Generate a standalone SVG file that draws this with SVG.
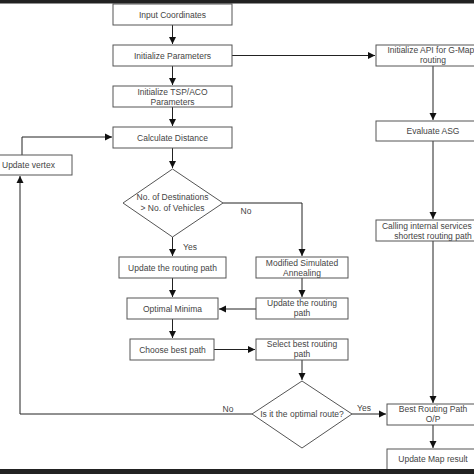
<svg xmlns="http://www.w3.org/2000/svg" width="474" height="474" viewBox="0 0 474 474">
<style>
.b{fill:#fff;stroke:#555;stroke-width:1}
.t{font-family:"Liberation Sans",Arial,sans-serif;font-size:8.5px;fill:#444;text-anchor:middle}
.c{fill:none;stroke:#222;stroke-width:1}
</style>
<defs>
<marker id="a" markerWidth="8" markerHeight="8" refX="7" refY="4" orient="auto" markerUnits="userSpaceOnUse">
<path d="M0,0.5 L7,4 L0,7.5 Z" fill="#111"/>
</marker>
</defs>
<rect width="474" height="474" fill="#fff"/>
<g id="connectors">
<path class="c" d="M172.5,25 V44" marker-end="url(#a)"/>
<path class="c" d="M172.5,66 V85" marker-end="url(#a)"/>
<path class="c" d="M172.5,107 V126" marker-end="url(#a)"/>
<path class="c" d="M172.5,148 V168" marker-end="url(#a)"/>
<path class="c" d="M232,55.5 H375" marker-end="url(#a)"/>
<path class="c" d="M433,66 V120" marker-end="url(#a)"/>
<path class="c" d="M433,141 V219" marker-end="url(#a)"/>
<path class="c" d="M433,241 V403" marker-end="url(#a)"/>
<path class="c" d="M433,425 V448" marker-end="url(#a)"/>
<path class="c" d="M22,155 V137 H112" marker-end="url(#a)"/>
<path class="c" d="M223,203 H302 V256" marker-end="url(#a)"/>
<path class="c" d="M172.5,237 V256" marker-end="url(#a)"/>
<path class="c" d="M172.5,278 V297" marker-end="url(#a)"/>
<path class="c" d="M172.5,319 V338" marker-end="url(#a)"/>
<path class="c" d="M302,278 V297" marker-end="url(#a)"/>
<path class="c" d="M256,309 H219" marker-end="url(#a)"/>
<path class="c" d="M214,349.5 H255" marker-end="url(#a)"/>
<path class="c" d="M302,360 V380" marker-end="url(#a)"/>
<path class="c" d="M252,414 H20 V176" marker-end="url(#a)"/>
<path class="c" d="M352,414 H386" marker-end="url(#a)"/>
<text class="t" x="190" y="250">Yes</text>
<text class="t" x="246" y="214">No</text>
<text class="t" x="228" y="412">No</text>
<text class="t" x="364" y="411">Yes</text>
</g>
<g id="n1"><rect class="b" x="113" y="4" width="119" height="21"/><text class="t" x="172.5" y="17.5">Input Coordinates</text></g>
<g id="n2"><rect class="b" x="113" y="45" width="119" height="21"/><text class="t" x="172.5" y="58.5">Initialize Parameters</text></g>
<g id="n3"><rect class="b" x="113" y="86" width="119" height="21"/><text class="t" x="172.5" y="95">Initialize TSP/ACO</text><text class="t" x="172.5" y="104.5">Parameters</text></g>
<g id="n4"><rect class="b" x="113" y="127" width="119" height="21"/><text class="t" x="172.5" y="140.5">Calculate Distance</text></g>
<g id="n5"><rect class="b" x="-14" y="155" width="86" height="20"/><text class="t" x="2" y="168" style="text-anchor:start">Update vertex</text></g>
<g id="n6"><polygon class="b" points="172.5,169 223,203 172.5,237 123,203"/><text class="t" x="172.5" y="200">No. of Destinations</text><text class="t" x="172.5" y="210.5">&gt; No. of Vehicles</text></g>
<g id="n7"><rect class="b" x="119" y="257" width="107" height="21"/><text class="t" x="172.5" y="270.5">Update the routing path</text></g>
<g id="n8"><rect class="b" x="127" y="298" width="91" height="21"/><text class="t" x="172.5" y="311.5">Optimal Minima</text></g>
<g id="n9"><rect class="b" x="130" y="339" width="84" height="21"/><text class="t" x="172.5" y="352.5">Choose best path</text></g>
<g id="n10"><rect class="b" x="256" y="257" width="92" height="21"/><text class="t" x="302" y="265.5">Modified Simulated</text><text class="t" x="302" y="275.5">Annealing</text></g>
<g id="n11"><rect class="b" x="256" y="298" width="92" height="21"/><text class="t" x="302" y="306">Update the routing</text><text class="t" x="302" y="316">path</text></g>
<g id="n12"><rect class="b" x="256" y="339" width="92" height="21"/><text class="t" x="302" y="347">Select best routing</text><text class="t" x="302" y="357">path</text></g>
<g id="n13"><polygon class="b" points="302,381 352,414 302,448 252,414"/><text class="t" x="302" y="417">Is it the optimal route?</text></g>
<g id="n14"><rect class="b" x="376" y="45" width="114" height="21"/><text class="t" x="433" y="53">Initialize API for G-Maps</text><text class="t" x="433" y="63">routing</text></g>
<g id="n15"><rect class="b" x="376" y="121" width="114" height="20"/><text class="t" x="433" y="134">Evaluate ASG</text></g>
<g id="n16"><rect class="b" x="376" y="220" width="114" height="21"/><text class="t" x="433" y="228.5">Calling internal services for</text><text class="t" x="433" y="238.5">shortest routing path</text></g>
<g id="n17"><rect class="b" x="387" y="404" width="100" height="21"/><text class="t" x="433" y="412">Best Routing Path</text><text class="t" x="433" y="422">O/P</text></g>
<g id="n18"><rect class="b" x="387" y="449" width="100" height="24"/><text class="t" x="433" y="462">Update Map result</text></g>
<rect x="0" y="0" width="474" height="3.5" fill="#222"/>
<rect x="0" y="469" width="474" height="5" fill="#222"/>
</svg>
